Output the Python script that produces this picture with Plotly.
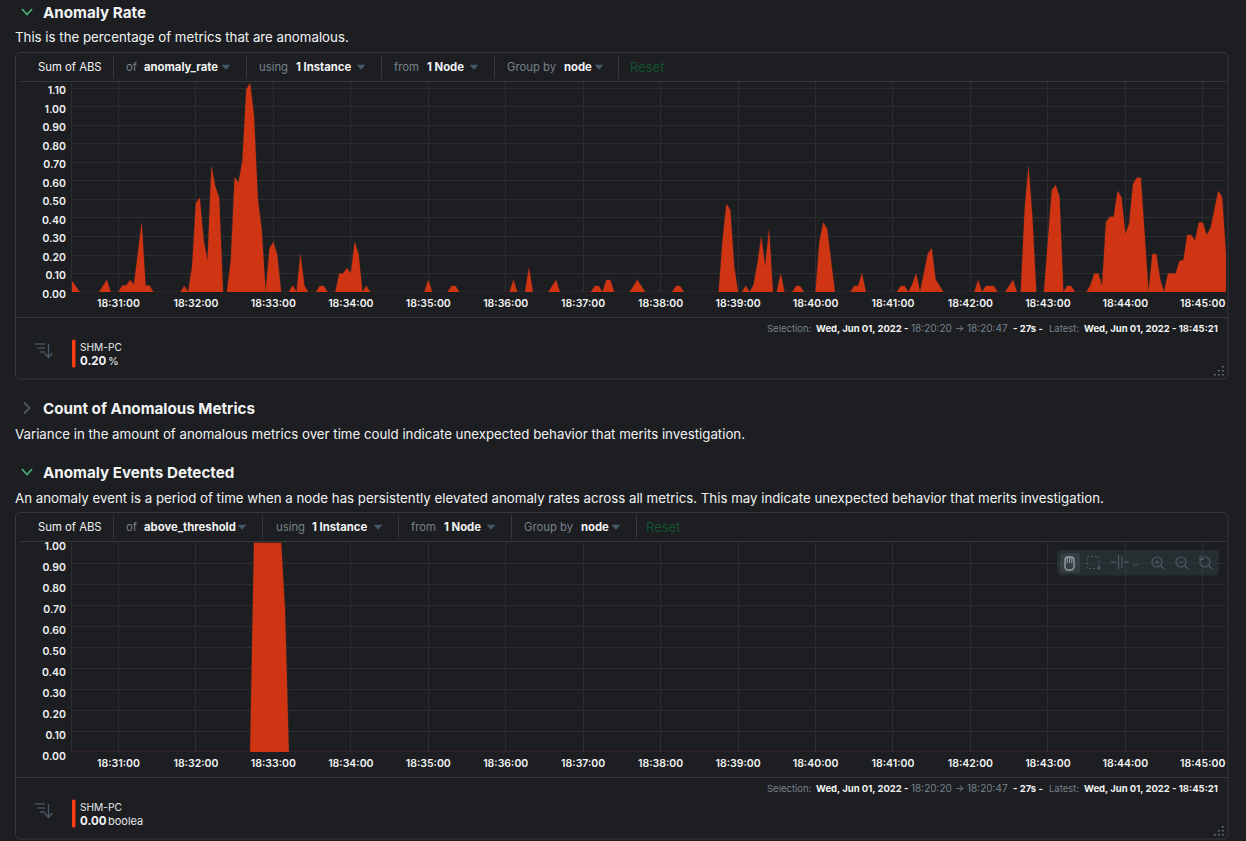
import pandas as pd
import plotly.graph_objects as go

W, H = 1246, 841
BG = "#1c1e22"
GRID = "#2b2d30"
BORDER = "#36383b"
WHITE = "#f2f3f3"
GRAY = "#78828a"
ICON = "#4a5a66"
FONT = "Inter"

# ---------- data ----------
start_time = "2022-06-01 18:30:24"
sample_step_s = 3
last_sample = 298
tick_labels_y_1 = [0.0, 0.1, 0.2, 0.3, 0.4, 0.5, 0.6, 0.7, 0.8, 0.9, 1.0, 1.1]
tick_labels_y_2 = [0.0, 0.1, 0.2, 0.3, 0.4, 0.5, 0.6, 0.7, 0.8, 0.9, 1.0]

rate_samples = [
    0, 2, 7, 9, 10, 12, 13, 14, 15, 16, 18, 19, 20, 21, 28, 29, 30, 31, 32, 33, 34, 35, 36, 37, 38, 39, 40,
    41, 42, 43, 44, 45, 46, 47, 48, 49, 50, 51, 52, 53, 54, 56, 57, 58, 59, 60, 61, 63, 64, 65, 66, 68, 69,
    70, 71, 72, 73, 74, 75, 76, 77, 91, 92, 93, 97, 98, 99, 100, 113, 114, 115, 117, 118, 119, 123, 125,
    126, 134, 135, 136, 137, 138, 139, 140, 144, 146, 148, 155, 156, 157, 158, 167, 168, 169, 170, 171,
    172, 173, 174, 175, 176, 177, 178, 179, 180, 181, 182, 183, 184, 186, 187, 188, 189, 192, 193, 194,
    195, 196, 197, 201, 202, 203, 204, 205, 213, 214, 215, 216, 217, 218, 219, 221, 222, 223, 225, 233,
    234, 235, 236, 238, 239, 241, 243, 244, 245, 246, 247, 248, 249, 251, 252, 253, 254, 255, 256, 257,
    258, 259, 262, 263, 264, 265, 266, 267, 268, 269, 270, 271, 272, 273, 274, 275, 276, 277, 278, 279,
    280, 281, 282, 283, 284, 285, 286, 287, 288, 289, 290, 291, 292, 293, 294, 295, 296, 297, 298,
]
rate_values = [
    0.06, 0, 0, 0.065, 0, 0, 0.035, 0.035, 0.065, 0.04, 0.375, 0.035, 0.035, 0, 0, 0.033, 0, 0.137, 0.48,
    0.51, 0.28, 0.17, 0.68, 0.57, 0.51, 0, 0, 0.17, 0.62, 0.59, 0.71, 1.095, 1.128, 0.95, 0.50, 0.335, 0,
    0.235, 0.27, 0.20, 0, 0, 0.035, 0, 0.205, 0.035, 0, 0, 0.033, 0.033, 0, 0, 0.10, 0.10, 0.13, 0.10,
    0.27, 0.205, 0, 0.033, 0, 0, 0.065, 0, 0, 0.033, 0.033, 0, 0, 0.065, 0, 0, 0.133, 0, 0, 0.065,
    0, 0, 0.033, 0.033, 0, 0.065, 0.065, 0, 0, 0.065, 0, 0, 0.033, 0.033, 0, 0, 0.28, 0.475, 0.443, 0.137,
    0, 0, 0.033, 0, 0.038, 0.155, 0.30, 0.137, 0.34, 0, 0, 0.10, 0, 0, 0.033, 0.033, 0, 0, 0.27, 0.375,
    0.34, 0.155, 0, 0, 0.033, 0.033, 0.10, 0, 0, 0.033, 0.033, 0, 0.043, 0.10, 0, 0.205, 0.236, 0.068, 0, 0,
    0.065, 0, 0.033, 0.033, 0, 0, 0.065, 0, 0, 0.443, 0.68, 0.407, 0, 0, 0.30, 0.548, 0.578, 0.515, 0, 0.033,
    0.033, 0, 0, 0.038, 0.10, 0.10, 0.033, 0.377, 0.407, 0.407, 0.546, 0.512, 0.312, 0.37, 0.584, 0.618,
    0.618, 0.32, 0, 0.205, 0.205, 0.068, 0, 0.10, 0.10, 0.10, 0.168, 0.173, 0.308, 0.308, 0.277, 0.375,
    0.375, 0.308, 0.344, 0.443, 0.546, 0.512, 0.205,
]
event_samples = [0, 46, 47, 54, 55, 56, 298]
event_values = [0, 0, 1, 1, 0.68, 0, 0]


def to_time(samples):
    return pd.Timestamp(start_time) + pd.to_timedelta([s * sample_step_s for s in samples], unit="s")


x_range = [pd.Timestamp(start_time), pd.Timestamp(start_time) + pd.Timedelta(seconds=last_sample * sample_step_s)]


# ---------- pixel helpers ----------
def px(x):
    return x / W


def py(y):
    return 1 - y / H


def path(points, close=False):
    s = "M" + " L".join(f"{px(x):.5f},{py(y):.5f}" for x, y in points)
    return s + (" Z" if close else "")


shapes = []
annotations = []


def line(x0, y0, x1, y1, color=BORDER, width=1):
    shapes.append(dict(type="line", xref="paper", yref="paper", x0=px(x0), y0=py(y0), x1=px(x1), y1=py(y1),
                       line=dict(color=color, width=width)))


def poly(points, color=ICON, width=1.3):
    shapes.append(dict(type="path", xref="paper", yref="paper", path=path(points), line=dict(color=color, width=width)))


def rect(x0, y0, x1, y1, fill=None, color=None, width=1, dash=None):
    shapes.append(dict(type="rect", xref="paper", yref="paper", x0=px(x0), y0=py(y0), x1=px(x1), y1=py(y1),
                       fillcolor=fill or "rgba(0,0,0,0)",
                       line=dict(color=color or "rgba(0,0,0,0)", width=width if color else 0, dash=dash)))


def rrect(x0, y0, x1, y1, r, fill=None, color=None, width=1):
    p = lambda x, y: f"{px(x):.5f},{py(y):.5f}"
    d = (f"M{p(x0 + r, y0)} L{p(x1 - r, y0)} Q{p(x1, y0)} {p(x1, y0 + r)} L{p(x1, y1 - r)} "
         f"Q{p(x1, y1)} {p(x1 - r, y1)} L{p(x0 + r, y1)} Q{p(x0, y1)} {p(x0, y1 - r)} "
         f"L{p(x0, y0 + r)} Q{p(x0, y0)} {p(x0 + r, y0)} Z")
    shapes.append(dict(type="path", xref="paper", yref="paper", path=d, fillcolor=fill or "rgba(0,0,0,0)",
                       line=dict(color=color or "rgba(0,0,0,0)", width=width if color else 0)))


def circle(cx, cy, r, color=ICON, width=1.2):
    shapes.append(dict(type="circle", xref="paper", yref="paper", x0=px(cx - r), x1=px(cx + r), y0=py(cy + r),
                       y1=py(cy - r), line=dict(color=color, width=width)))


def text(x, y, s, size=11.5, color=WHITE, bold=False, anchor="left"):
    annotations.append(dict(xref="paper", yref="paper", x=px(x), y=py(y), text=f"<b>{s}</b>" if bold else s,
                            showarrow=False, xanchor=anchor, yanchor="middle", align=anchor,
                            font=dict(family=FONT, size=size, color=color), borderpad=0, borderwidth=0))


def card(top, of_label, seps, labels, legend_value, legend_unit):
    bottom = top + 326.5
    rrect(15.5, top, 1228, bottom, 5, color=BORDER)
    line(20, top + 29, 1226, top + 29)
    for s in seps:
        line(s, top + 3, s, top + 26)
    foot = top + 265
    line(15.5, foot, 1228, foot)
    ty = top + 14.5
    text(38, ty, "Sum of ABS", 11.3)
    text(126, ty, "of", 11.3, GRAY)
    text(144, ty, of_label, 11.3, bold=True)
    for lx, ly, col, b in labels:
        if ly == "chev":
            shapes.append(dict(type="path", xref="paper", yref="paper",
                               path=path([(lx, ty - 2), (lx + 8, ty - 2), (lx + 4, ty + 2.5)], True),
                               fillcolor="#465a68", line=dict(color="#465a68", width=0.5)))
        elif ly == "Reset":
            text(lx, ty, ly, 13, col, b)
        else:
            text(lx, ty, ly, 11.3, col, b)
    # footer line of dates
    fy = foot + 10.5
    text(767, fy, "Selection:", 9.5, GRAY)
    text(816, fy, "Wed, Jun 01, 2022 -", 9.5, WHITE, True)
    text(911, fy, "18:20:20 → 18:20:47", 10, GRAY)
    text(1013, fy, "- 27s -", 9.5, WHITE, True)
    text(1049, fy, "Latest:", 9.5, GRAY)
    text(1084, fy, "Wed, Jun 01, 2022 - 18:45:21", 9.5, WHITE, True)
    # sort icon
    sy = foot + 26.5
    line(35, sy, 45, sy, ICON, 1.3)
    line(37, sy + 4, 45, sy + 4, ICON, 1.3)
    line(40, sy + 8, 45, sy + 8, ICON, 1.3)
    line(48.5, sy, 48.5, sy + 13, ICON, 1.3)
    poly([(44.5, sy + 9), (48.5, sy + 13.5), (52.5, sy + 9)])
    # legend
    rrect(72, foot + 22, 75.5, foot + 50, 1.5, fill="#ff3d12")
    text(80, foot + 29, "SHM-PC", 10.2, "#e6e7e8")
    text(80, foot + 43, legend_value, 11.5, WHITE, True)
    text(108, foot + 43, legend_unit, 11, "#e6e7e8")
    # grip
    gy = bottom - 4
    for dx, dy in [(0, 0), (4, 0), (8, 0), (4, -4), (8, -4), (8, -8)]:
        rect(1214 + dx, gy + dy - 1, 1215.6 + dx, gy + dy + 0.6, fill="#717b83")


# ---------- section headings ----------
HEAD = 15.2
DESC = 13.27
poly([(22, 9), (27, 14.5), (32, 9)], "#4caf78", 1.8)
text(43, 12.5, "Anomaly Rate", HEAD, WHITE, True)
text(15, 37, "This is the percentage of metrics that are anomalous.", DESC)

poly([(24, 402.5), (29.5, 408), (24, 413.5)], "#4a5a66", 1.8)
text(43, 408.5, "Count of Anomalous Metrics", HEAD, WHITE, True)
text(15, 434, "Variance in the amount of anomalous metrics over time could indicate unexpected behavior that merits investigation.", DESC)

poly([(22, 469), (27, 474.5), (32, 469)], "#4caf78", 1.8)
text(43, 472.5, "Anomaly Events Detected", HEAD, WHITE, True)
text(15, 498, "An anomaly event is a period of time when a node has persistently elevated anomaly rates across all metrics. This may indicate unexpected behavior that merits investigation.", DESC)

RESET = "#14512f"
card(52.5, "anomaly_rate", [113.5, 246.5, 381.5, 494.5, 618.5], [
    (222, "chev", None, None), (259, "using", GRAY, False), (296, "1 Instance", WHITE, True), (357, "chev", None, None),
    (394, "from", GRAY, False), (427, "1 Node", WHITE, True), (470, "chev", None, None),
    (507, "Group by", GRAY, False), (564, "node", WHITE, True), (595, "chev", None, None),
    (630, "Reset", RESET, False)], "0.20", "%")
card(512.5, "above_threshold", [113.5, 262.5, 398.5, 511.5, 636.5], [
    (238, "chev", None, None), (276, "using", GRAY, False), (312, "1 Instance", WHITE, True), (374, "chev", None, None),
    (411, "from", GRAY, False), (444, "1 Node", WHITE, True), (487, "chev", None, None),
    (524, "Group by", GRAY, False), (581, "node", WHITE, True), (612, "chev", None, None),
    (646, "Reset", RESET, False)], "0.00", "boolea")

# ---------- chart toolbar ----------
rrect(1057, 550, 1219, 575.5, 4, fill="rgba(50,66,72,0.45)")
rrect(1060, 553, 1080, 573, 3, fill="rgba(70,82,88,0.45)")
rrect(1065, 557, 1074, 570, 3.5, color="#9aa3a8", width=1.3)
for hx in (1067.2, 1069.5, 1071.8):
    line(hx, 557, hx, 563, "#9aa3a8", 1)
rect(1087, 556.5, 1099, 568.5, color=ICON, width=1.2, dash="2px,2px")
line(1097, 568, 1101, 568, ICON, 1.2)
line(1099, 566, 1099, 570, ICON, 1.2)
line(1118.5, 555, 1118.5, 569, ICON, 1.2)
line(1122, 556, 1122, 568, ICON, 1.2)
poly([(1111, 562), (1116.5, 562)])
poly([(1124, 562), (1129, 562)])
poly([(1133, 564), (1135.5, 566), (1138, 564)], ICON, 1)
for cx, mark in [(1157, "plus"), (1181, "minus"), (1205, "reset")]:
    circle(cx, 562, 5)
    line(cx + 3.8, 565.8, cx + 7.5, 569.5, ICON, 1.2)
    if mark != "reset":
        line(cx - 2.5, 562, cx + 2.5, 562, ICON, 1.1)
    if mark == "plus":
        line(cx, 559.5, cx, 564.5, ICON, 1.1)
    if mark == "reset":
        poly([(1200, 555.5), (1200, 559.5), (1204, 559.5)], ICON, 1.1)

# ---------- figure ----------
area = dict(mode="lines", fill="tozeroy", fillcolor="rgba(214,53,19,0.97)",
            line=dict(color="rgba(220,70,30,0.16)", width=1.5), hoverinfo="skip", showlegend=False, cliponaxis=True)

fig = go.Figure()
fig.add_trace(go.Scatter(x=to_time(rate_samples), y=rate_values, xaxis="x", yaxis="y", **area))
fig.add_trace(go.Scatter(x=to_time(event_samples), y=event_values, xaxis="x2", yaxis="y2", **area))

x_common = dict(type="date", range=x_range, domain=[px(72), px(1226)], tickformat="%H:%M:%S", dtick=60000,
                tick0="2022-06-01 18:31:00", ticks="", showgrid=True, gridcolor=GRID, gridwidth=1, zeroline=False,
                showline=False, ticklabelstandoff=3, automargin=False,
                tickfont=dict(family=FONT, size=10.5, color=WHITE, weight=600), layer="below traces")
y_common = dict(showgrid=True, gridcolor=GRID, gridwidth=1, zeroline=False, showline=True, linecolor=GRID,
                ticks="", tickformat=".2f", ticklabelstandoff=3, automargin=False,
                tickfont=dict(family=FONT, size=10.5, color=WHITE, weight=600), layer="below traces")

fig.update_layout(
    width=W, height=H, autosize=False, margin=dict(l=0, r=0, t=0, b=0, pad=0, autoexpand=False),
    paper_bgcolor=BG, plot_bgcolor=BG, showlegend=False, hovermode=False,
    xaxis=dict(anchor="y", **x_common),
    xaxis2=dict(anchor="y2", **x_common),
    yaxis=dict(anchor="x", domain=[py(292), py(82)], range=[0, 1.135], tickvals=tick_labels_y_1,
               ticklabelshift=2, **y_common),
    yaxis2=dict(anchor="x2", domain=[py(752), py(542.5)], range=[0, 1.0], tickvals=tick_labels_y_2,
                ticklabelshift=4, **y_common),
    shapes=shapes, annotations=annotations,
)

fig.write_html("out.html", config=dict(displayModeBar=False),
               post_script=f"document.body.style.margin='0';document.body.style.background='{BG}';")
